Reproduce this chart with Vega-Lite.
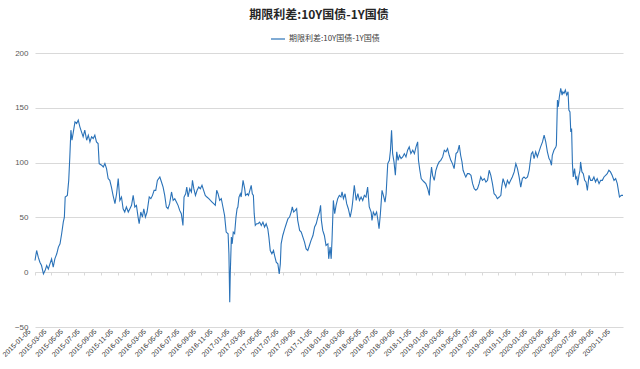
{
"$schema": "https://vega.github.io/schema/vega-lite/v6.json",
"width": 588,
"height": 274,
"autosize": {"type": "none"},
"padding": {"left": 35, "top": 53, "right": 17, "bottom": 42},
"background": "white",
"title": {"text": "期限利差:10Y国债-1Y国债", "fontSize": 12, "fontWeight": "bold", "color": "#262626", "font": "Noto Sans CJK SC", "anchor": "middle", "frame": "group", "dx": -10, "offset": 9},
"config": {"view": {"stroke": null}},
"data": {"values": [
{"d":"2015-01-05","v":10.7},{"d":"2015-01-11","v":19.8},{"d":"2015-01-17","v":13.7},{"d":"2015-01-23","v":9.1},{"d":"2015-01-29","v":6.1},{"d":"2015-02-05","v":-1.5},{"d":"2015-02-11","v":1.5},{"d":"2015-02-17","v":6.1},{"d":"2015-02-23","v":3.0},{"d":"2015-03-01","v":7.6},{"d":"2015-03-07","v":12.2},{"d":"2015-03-13","v":4.6},{"d":"2015-03-19","v":12.2},{"d":"2015-03-26","v":16.8},{"d":"2015-04-01","v":22.9},{"d":"2015-04-07","v":25.9},{"d":"2015-04-13","v":35.1},{"d":"2015-04-19","v":45.7},{"d":"2015-04-23","v":50.3},{"d":"2015-04-26","v":68.6},{"d":"2015-05-04","v":70.1},{"d":"2015-05-09","v":83.8},{"d":"2015-05-13","v":105.2},{"d":"2015-05-17","v":129.6},{"d":"2015-05-21","v":120.4},{"d":"2015-05-26","v":128.0},{"d":"2015-06-01","v":137.2},{"d":"2015-06-07","v":135.7},{"d":"2015-06-13","v":138.7},{"d":"2015-06-19","v":132.6},{"d":"2015-06-25","v":128.0},{"d":"2015-07-01","v":123.5},{"d":"2015-07-07","v":129.6},{"d":"2015-07-14","v":120.4},{"d":"2015-07-20","v":125.0},{"d":"2015-07-26","v":118.9},{"d":"2015-08-01","v":123.5},{"d":"2015-08-07","v":122.0},{"d":"2015-08-13","v":125.0},{"d":"2015-08-19","v":118.9},{"d":"2015-08-25","v":117.4},{"d":"2015-08-29","v":99.1},{"d":"2015-09-07","v":97.6},{"d":"2015-09-13","v":96.0},{"d":"2015-09-19","v":99.1},{"d":"2015-09-25","v":94.5},{"d":"2015-10-01","v":85.4},{"d":"2015-10-07","v":83.8},{"d":"2015-10-13","v":77.7},{"d":"2015-10-19","v":70.1},{"d":"2015-10-26","v":62.5},{"d":"2015-11-01","v":71.6},{"d":"2015-11-07","v":85.4},{"d":"2015-11-13","v":65.5},{"d":"2015-11-19","v":68.6},{"d":"2015-11-25","v":57.9},{"d":"2015-12-01","v":54.9},{"d":"2015-12-07","v":59.5},{"d":"2015-12-14","v":54.9},{"d":"2015-12-20","v":57.9},{"d":"2015-12-26","v":61.0},
{"d":"2016-01-01","v":70.1},{"d":"2016-01-07","v":59.5},{"d":"2016-01-13","v":61.0},{"d":"2016-01-19","v":50.3},{"d":"2016-01-23","v":44.2},{"d":"2016-01-29","v":54.9},{"d":"2016-02-04","v":50.3},{"d":"2016-02-09","v":57.9},{"d":"2016-02-15","v":50.3},{"d":"2016-02-21","v":54.9},{"d":"2016-02-29","v":68.6},{"d":"2016-03-06","v":67.1},{"d":"2016-03-12","v":70.1},{"d":"2016-03-18","v":74.7},{"d":"2016-03-24","v":74.7},{"d":"2016-03-30","v":83.8},{"d":"2016-04-08","v":86.9},{"d":"2016-04-14","v":82.3},{"d":"2016-04-20","v":77.7},{"d":"2016-04-26","v":70.1},{"d":"2016-05-02","v":59.5},{"d":"2016-05-08","v":57.9},{"d":"2016-05-14","v":62.5},{"d":"2016-05-21","v":73.2},{"d":"2016-05-27","v":65.5},{"d":"2016-06-02","v":67.1},{"d":"2016-06-08","v":64.0},{"d":"2016-06-14","v":61.0},{"d":"2016-06-20","v":56.4},{"d":"2016-06-26","v":53.4},{"d":"2016-07-02","v":42.7},{"d":"2016-07-06","v":68.6},{"d":"2016-07-12","v":71.6},{"d":"2016-07-16","v":77.7},{"d":"2016-07-21","v":68.6},{"d":"2016-07-27","v":76.2},{"d":"2016-08-02","v":73.2},{"d":"2016-08-06","v":83.8},{"d":"2016-08-11","v":76.2},{"d":"2016-08-17","v":70.1},{"d":"2016-08-23","v":74.7},{"d":"2016-08-29","v":77.7},{"d":"2016-09-04","v":76.2},{"d":"2016-09-10","v":79.3},{"d":"2016-09-16","v":74.7},{"d":"2016-09-22","v":70.1},{"d":"2016-09-28","v":68.6},{"d":"2016-10-05","v":67.1},{"d":"2016-10-11","v":65.5},{"d":"2016-10-17","v":64.0},{"d":"2016-10-23","v":62.5},{"d":"2016-10-29","v":61.0},{"d":"2016-11-03","v":74.7},{"d":"2016-11-08","v":71.6},{"d":"2016-11-14","v":65.5},{"d":"2016-11-20","v":67.1},{"d":"2016-11-26","v":59.5},{"d":"2016-12-02","v":51.8},{"d":"2016-12-08","v":36.6},{"d":"2016-12-15","v":35.1},{"d":"2016-12-18","v":16.8},{"d":"2016-12-21","v":-27.4},{"d":"2016-12-23","v":-1.5},{"d":"2016-12-27","v":32.0},{"d":"2016-12-30","v":25.9},
{"d":"2017-01-03","v":36.6},{"d":"2017-01-08","v":35.1},{"d":"2017-01-13","v":50.3},{"d":"2017-01-17","v":57.9},{"d":"2017-01-20","v":59.5},{"d":"2017-01-24","v":68.6},{"d":"2017-01-29","v":71.6},{"d":"2017-02-01","v":68.6},{"d":"2017-02-08","v":83.8},{"d":"2017-02-14","v":76.2},{"d":"2017-02-17","v":70.1},{"d":"2017-02-24","v":71.6},{"d":"2017-02-28","v":70.1},{"d":"2017-03-05","v":74.7},{"d":"2017-03-10","v":79.3},{"d":"2017-03-14","v":71.6},{"d":"2017-03-18","v":70.1},{"d":"2017-03-21","v":53.4},{"d":"2017-03-25","v":42.7},{"d":"2017-03-30","v":44.2},{"d":"2017-04-04","v":44.2},{"d":"2017-04-10","v":45.7},{"d":"2017-04-16","v":42.7},{"d":"2017-04-22","v":45.7},{"d":"2017-04-28","v":41.2},{"d":"2017-05-04","v":44.2},{"d":"2017-05-10","v":39.6},{"d":"2017-05-14","v":32.0},{"d":"2017-05-19","v":19.8},{"d":"2017-05-25","v":16.8},{"d":"2017-05-31","v":19.8},{"d":"2017-06-04","v":15.2},{"d":"2017-06-10","v":9.1},{"d":"2017-06-16","v":7.6},{"d":"2017-06-21","v":-1.5},{"d":"2017-06-25","v":7.6},{"d":"2017-06-28","v":25.9},{"d":"2017-07-04","v":33.5},{"d":"2017-07-11","v":39.6},{"d":"2017-07-17","v":44.2},{"d":"2017-07-23","v":48.8},{"d":"2017-07-29","v":50.3},{"d":"2017-08-04","v":54.9},{"d":"2017-08-08","v":59.5},{"d":"2017-08-13","v":54.9},{"d":"2017-08-19","v":56.4},{"d":"2017-08-24","v":57.9},{"d":"2017-08-28","v":47.3},{"d":"2017-09-04","v":38.1},{"d":"2017-09-10","v":36.6},{"d":"2017-09-16","v":32.0},{"d":"2017-09-22","v":27.4},{"d":"2017-09-28","v":21.3},{"d":"2017-10-04","v":19.8},{"d":"2017-10-10","v":24.4},{"d":"2017-10-16","v":29.0},{"d":"2017-10-23","v":33.5},{"d":"2017-10-29","v":41.2},{"d":"2017-11-04","v":44.2},{"d":"2017-11-10","v":50.3},{"d":"2017-11-16","v":54.9},{"d":"2017-11-20","v":61.0},{"d":"2017-11-23","v":47.3},{"d":"2017-11-28","v":38.1},{"d":"2017-12-04","v":33.5},{"d":"2017-12-10","v":24.4},{"d":"2017-12-17","v":25.9},{"d":"2017-12-20","v":12.2},{"d":"2017-12-25","v":22.9},{"d":"2017-12-29","v":12.2},
{"d":"2018-01-01","v":29.0},{"d":"2018-01-06","v":65.5},{"d":"2018-01-11","v":53.4},{"d":"2018-01-16","v":61.0},{"d":"2018-01-22","v":67.1},{"d":"2018-01-28","v":70.1},{"d":"2018-02-03","v":68.6},{"d":"2018-02-07","v":73.2},{"d":"2018-02-12","v":67.1},{"d":"2018-02-18","v":71.6},{"d":"2018-02-24","v":62.5},{"d":"2018-03-02","v":57.9},{"d":"2018-03-09","v":50.3},{"d":"2018-03-15","v":57.9},{"d":"2018-03-18","v":64.0},{"d":"2018-03-24","v":79.3},{"d":"2018-03-31","v":65.5},{"d":"2018-04-06","v":71.6},{"d":"2018-04-12","v":65.5},{"d":"2018-04-18","v":68.6},{"d":"2018-04-24","v":65.5},{"d":"2018-04-30","v":70.1},{"d":"2018-05-06","v":68.6},{"d":"2018-05-12","v":77.7},{"d":"2018-05-18","v":59.5},{"d":"2018-05-25","v":54.9},{"d":"2018-05-28","v":47.3},{"d":"2018-06-02","v":54.9},{"d":"2018-06-08","v":51.8},{"d":"2018-06-14","v":54.9},{"d":"2018-06-19","v":47.3},{"d":"2018-06-23","v":39.6},{"d":"2018-06-28","v":53.4},{"d":"2018-07-04","v":74.7},{"d":"2018-07-09","v":70.1},{"d":"2018-07-15","v":64.0},{"d":"2018-07-19","v":71.6},{"d":"2018-07-25","v":99.1},{"d":"2018-07-31","v":102.1},{"d":"2018-08-04","v":111.3},{"d":"2018-08-08","v":129.6},{"d":"2018-08-12","v":108.2},{"d":"2018-08-17","v":100.6},{"d":"2018-08-22","v":88.4},{"d":"2018-08-27","v":109.8},{"d":"2018-09-01","v":102.1},{"d":"2018-09-06","v":106.7},{"d":"2018-09-12","v":103.7},{"d":"2018-09-18","v":105.2},{"d":"2018-09-24","v":108.2},{"d":"2018-09-30","v":105.2},{"d":"2018-10-06","v":111.3},{"d":"2018-10-12","v":114.3},{"d":"2018-10-18","v":108.2},{"d":"2018-10-25","v":111.3},{"d":"2018-10-31","v":108.2},{"d":"2018-11-06","v":114.3},{"d":"2018-11-12","v":118.9},{"d":"2018-11-15","v":102.1},{"d":"2018-11-20","v":93.0},{"d":"2018-11-25","v":85.4},{"d":"2018-11-30","v":83.8},{"d":"2018-12-06","v":82.3},{"d":"2018-12-12","v":80.8},{"d":"2018-12-19","v":76.2},{"d":"2018-12-25","v":70.1},{"d":"2018-12-28","v":83.8},
{"d":"2019-01-02","v":96.0},{"d":"2019-01-06","v":88.4},{"d":"2019-01-12","v":83.8},{"d":"2019-01-18","v":93.0},{"d":"2019-01-24","v":97.6},{"d":"2019-01-30","v":100.6},{"d":"2019-02-05","v":102.1},{"d":"2019-02-12","v":105.2},{"d":"2019-02-18","v":111.3},{"d":"2019-02-24","v":109.8},{"d":"2019-03-02","v":112.8},{"d":"2019-03-08","v":106.7},{"d":"2019-03-14","v":102.1},{"d":"2019-03-20","v":99.1},{"d":"2019-03-26","v":94.5},{"d":"2019-04-02","v":108.2},{"d":"2019-04-08","v":109.8},{"d":"2019-04-14","v":115.9},{"d":"2019-04-19","v":106.7},{"d":"2019-04-24","v":100.6},{"d":"2019-04-28","v":93.0},{"d":"2019-05-05","v":88.4},{"d":"2019-05-08","v":86.9},{"d":"2019-05-14","v":89.9},{"d":"2019-05-20","v":89.9},{"d":"2019-05-27","v":88.4},{"d":"2019-06-02","v":80.8},{"d":"2019-06-08","v":76.2},{"d":"2019-06-14","v":74.7},{"d":"2019-06-20","v":76.2},{"d":"2019-06-26","v":80.8},{"d":"2019-07-02","v":86.9},{"d":"2019-07-08","v":83.8},{"d":"2019-07-15","v":85.4},{"d":"2019-07-21","v":82.3},{"d":"2019-07-27","v":83.8},{"d":"2019-08-02","v":93.0},{"d":"2019-08-08","v":88.4},{"d":"2019-08-14","v":80.8},{"d":"2019-08-20","v":71.6},{"d":"2019-08-26","v":70.1},{"d":"2019-09-01","v":67.1},{"d":"2019-09-08","v":68.6},{"d":"2019-09-14","v":70.1},{"d":"2019-09-17","v":77.7},{"d":"2019-09-22","v":85.4},{"d":"2019-09-26","v":82.3},{"d":"2019-10-02","v":77.7},{"d":"2019-10-08","v":83.8},{"d":"2019-10-14","v":80.8},{"d":"2019-10-20","v":83.8},{"d":"2019-10-26","v":86.9},{"d":"2019-11-02","v":91.5},{"d":"2019-11-08","v":99.1},{"d":"2019-11-14","v":94.5},{"d":"2019-11-20","v":86.9},{"d":"2019-11-26","v":77.7},{"d":"2019-12-02","v":85.4},{"d":"2019-12-08","v":86.9},{"d":"2019-12-14","v":85.4},{"d":"2019-12-21","v":86.9},{"d":"2019-12-27","v":93.0},{"d":"2019-12-30","v":99.1},
{"d":"2020-01-04","v":108.2},{"d":"2020-01-09","v":109.8},{"d":"2020-01-14","v":103.7},{"d":"2020-01-20","v":109.8},{"d":"2020-01-26","v":105.2},{"d":"2020-02-01","v":109.8},{"d":"2020-02-07","v":114.3},{"d":"2020-02-14","v":118.9},{"d":"2020-02-20","v":125.0},{"d":"2020-02-26","v":118.9},{"d":"2020-03-03","v":109.8},{"d":"2020-03-09","v":103.7},{"d":"2020-03-13","v":102.1},{"d":"2020-03-18","v":97.6},{"d":"2020-03-21","v":106.7},{"d":"2020-03-27","v":111.3},{"d":"2020-04-03","v":114.3},{"d":"2020-04-05","v":115.9},{"d":"2020-04-09","v":157.0},{"d":"2020-04-12","v":150.9},{"d":"2020-04-16","v":160.1},{"d":"2020-04-21","v":167.7},{"d":"2020-04-26","v":161.6},{"d":"2020-04-29","v":164.6},{"d":"2020-05-03","v":163.1},{"d":"2020-05-08","v":166.2},{"d":"2020-05-13","v":161.6},{"d":"2020-05-18","v":164.6},{"d":"2020-05-21","v":147.9},{"d":"2020-05-25","v":146.3},{"d":"2020-05-28","v":128.0},{"d":"2020-05-31","v":131.1},{"d":"2020-06-03","v":99.1},{"d":"2020-06-06","v":86.9},{"d":"2020-06-11","v":94.5},{"d":"2020-06-15","v":85.4},{"d":"2020-06-19","v":86.9},{"d":"2020-06-22","v":79.3},{"d":"2020-06-27","v":88.4},{"d":"2020-07-01","v":93.0},{"d":"2020-07-03","v":100.6},{"d":"2020-07-08","v":91.5},{"d":"2020-07-13","v":89.9},{"d":"2020-07-18","v":83.8},{"d":"2020-07-23","v":82.3},{"d":"2020-07-28","v":74.7},{"d":"2020-08-03","v":88.4},{"d":"2020-08-09","v":83.8},{"d":"2020-08-15","v":83.8},{"d":"2020-08-21","v":86.9},{"d":"2020-08-27","v":82.3},{"d":"2020-09-02","v":85.4},{"d":"2020-09-09","v":80.8},{"d":"2020-09-15","v":83.8},{"d":"2020-09-21","v":83.8},{"d":"2020-09-27","v":86.9},{"d":"2020-10-03","v":88.4},{"d":"2020-10-09","v":89.9},{"d":"2020-10-15","v":93.0},{"d":"2020-10-21","v":91.5},{"d":"2020-10-27","v":88.4},{"d":"2020-11-03","v":83.8},{"d":"2020-11-09","v":85.4},{"d":"2020-11-15","v":80.8},{"d":"2020-11-18","v":76.2},{"d":"2020-11-23","v":68.6},{"d":"2020-11-30","v":70.1},{"d":"2020-12-06","v":70.1}
]},
"mark": {"type": "line", "strokeWidth": 1.1, "interpolate": "linear"},
"encoding": {
"x": {"field": "d", "type": "temporal", "title": null,
 "scale": {"type": "utc", "domain": [{"year":2015,"month":1,"date":5,"utc":true},{"year":2020,"month":12,"date":6,"utc":true}], "nice": false},
 "axis": {"format": "%Y-%m-%d", "labelAngle": -45, "labelAlign": "right", "labelBaseline": "middle", "labelFontSize": 7, "labelFont": "Liberation Sans", "labelColor": "#333333", "labelOverlap": false, "labelFlush": false, "labelBound": false,
  "offset": -55, "domainColor": "#d9d9d9", "tickColor": "#d9d9d9", "tickSize": 3, "labelPadding": 55, "labelOffset": -6, "grid": false,
  "values": [
   {"year":2015,"month":1,"date":5,"utc":true},{"year":2015,"month":3,"date":5,"utc":true},{"year":2015,"month":5,"date":5,"utc":true},{"year":2015,"month":7,"date":5,"utc":true},{"year":2015,"month":9,"date":5,"utc":true},{"year":2015,"month":11,"date":5,"utc":true},
   {"year":2016,"month":1,"date":5,"utc":true},{"year":2016,"month":3,"date":5,"utc":true},{"year":2016,"month":5,"date":5,"utc":true},{"year":2016,"month":7,"date":5,"utc":true},{"year":2016,"month":9,"date":5,"utc":true},{"year":2016,"month":11,"date":5,"utc":true},
   {"year":2017,"month":1,"date":5,"utc":true},{"year":2017,"month":3,"date":5,"utc":true},{"year":2017,"month":5,"date":5,"utc":true},{"year":2017,"month":7,"date":5,"utc":true},{"year":2017,"month":9,"date":5,"utc":true},{"year":2017,"month":11,"date":5,"utc":true},
   {"year":2018,"month":1,"date":5,"utc":true},{"year":2018,"month":3,"date":5,"utc":true},{"year":2018,"month":5,"date":5,"utc":true},{"year":2018,"month":7,"date":5,"utc":true},{"year":2018,"month":9,"date":5,"utc":true},{"year":2018,"month":11,"date":5,"utc":true},
   {"year":2019,"month":1,"date":5,"utc":true},{"year":2019,"month":3,"date":5,"utc":true},{"year":2019,"month":5,"date":5,"utc":true},{"year":2019,"month":7,"date":5,"utc":true},{"year":2019,"month":9,"date":5,"utc":true},{"year":2019,"month":11,"date":5,"utc":true},
   {"year":2020,"month":1,"date":5,"utc":true},{"year":2020,"month":3,"date":5,"utc":true},{"year":2020,"month":5,"date":5,"utc":true},{"year":2020,"month":7,"date":5,"utc":true},{"year":2020,"month":9,"date":5,"utc":true},{"year":2020,"month":11,"date":5,"utc":true}
  ]}},
"y": {"field": "v", "type": "quantitative", "title": null,
 "scale": {"domain": [-50, 200], "nice": false, "zero": false},
 "axis": {"values": [-50, 0, 50, 100, 150, 200], "grid": true, "gridColor": "#d9d9d9", "gridWidth": 1, "domain": false, "ticks": false, "labelPadding": 7, "labelFontSize": 8, "labelFont": "Liberation Sans", "labelColor": "#595959"}},
"color": {"datum": "期限利差:10Y国债-1Y国债", "type": "nominal", "scale": {"range": ["#2a72b8"]},
 "legend": {"title": null, "orient": "none", "legendX": 235, "legendY": -22, "symbolType": "stroke", "symbolSize": 196, "symbolStrokeWidth": 1.2, "labelFontSize": 8, "labelFont": "Noto Sans CJK SC", "labelColor": "#404040", "padding": 0, "labelOffset": 3}}
}
}
